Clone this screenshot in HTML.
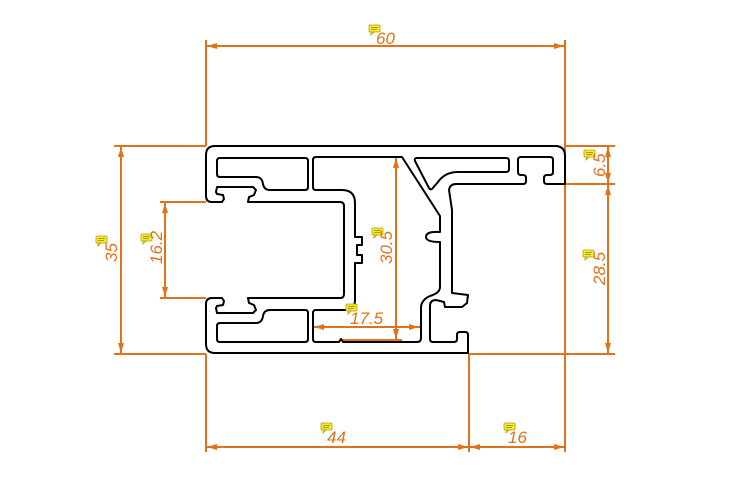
<!DOCTYPE html>
<html><head><style>html,body{margin:0;padding:0;background:#fff}svg{display:block}
text{font-family:"Liberation Sans",sans-serif;font-style:italic;font-size:17px;fill:#E0731A}</style></head>
<body>
<svg width="751" height="489" viewBox="0 0 751 489" xmlns="http://www.w3.org/2000/svg">
<defs>
<g id="ic"><rect x="0" y="0" width="11" height="7" rx="1" fill="#F3EA3A" stroke="#B8A000" stroke-width="0.8"/><path d="M2,7 L2,10 L5,7Z" fill="#F3EA3A" stroke="#B8A000" stroke-width="0.8"/><line x1="2" y1="2.5" x2="9" y2="2.5" stroke="#9a8a00" stroke-width="0.8"/><line x1="2" y1="4.5" x2="8" y2="4.5" stroke="#9a8a00" stroke-width="0.8"/></g>
<marker id="a" viewBox="0 0 10 6" refX="10" refY="3" markerWidth="10" markerHeight="6" markerUnits="userSpaceOnUse" orient="auto"><path d="M0,0 L10,3 L0,6Z" fill="#E0731A"/></marker>
</defs>
<g stroke="#E0731A" stroke-width="2" fill="none">
<!-- top 60 -->
<line x1="206" y1="40" x2="206" y2="146"/><line x1="565" y1="40" x2="565" y2="452"/>
<line x1="206" y1="46" x2="565" y2="46"/>
<!-- left 35 -->
<line x1="114" y1="146" x2="206" y2="146"/><line x1="114" y1="354" x2="206" y2="354"/>
<line x1="121" y1="146" x2="121" y2="354"/>
<!-- 16.2 -->
<line x1="160" y1="202" x2="206" y2="202"/><line x1="160" y1="298" x2="206" y2="298"/>
<line x1="165" y1="202" x2="165" y2="298"/>
<!-- right -->
<line x1="565" y1="146" x2="615" y2="146"/><line x1="565" y1="184" x2="615" y2="184"/><line x1="469" y1="354" x2="615" y2="354"/>
<line x1="608" y1="146" x2="608" y2="354"/>
<!-- bottom -->
<line x1="206" y1="354" x2="206" y2="452"/><line x1="469" y1="354" x2="469" y2="452"/>
<line x1="206" y1="447" x2="565" y2="447"/>
<!-- 30.5 / 17.5 -->
<line x1="388" y1="157" x2="402" y2="157"/><line x1="342" y1="340" x2="402" y2="340"/>
<line x1="396" y1="157" x2="396" y2="340"/>
<line x1="313" y1="327" x2="420" y2="327"/>
</g>
<g stroke="#E0731A" stroke-width="1.5" fill="none">
<line x1="215" y1="46" x2="207" y2="46" marker-end="url(#a)"/><line x1="556" y1="46" x2="564" y2="46" marker-end="url(#a)"/>
<line x1="121" y1="156" x2="121" y2="147" marker-end="url(#a)"/><line x1="121" y1="344" x2="121" y2="353" marker-end="url(#a)"/>
<line x1="165" y1="212" x2="165" y2="203" marker-end="url(#a)"/><line x1="165" y1="288" x2="165" y2="297" marker-end="url(#a)"/>
<line x1="608" y1="156" x2="608" y2="147" marker-end="url(#a)"/><line x1="608" y1="174" x2="608" y2="183" marker-end="url(#a)"/>
<line x1="608" y1="194" x2="608" y2="185" marker-end="url(#a)"/><line x1="608" y1="344" x2="608" y2="353" marker-end="url(#a)"/>
<line x1="215" y1="447" x2="207" y2="447" marker-end="url(#a)"/><line x1="460" y1="447" x2="468" y2="447" marker-end="url(#a)"/>
<line x1="478" y1="447" x2="470" y2="447" marker-end="url(#a)"/><line x1="556" y1="447" x2="564" y2="447" marker-end="url(#a)"/>
<line x1="396" y1="167" x2="396" y2="158" marker-end="url(#a)"/><line x1="396" y1="330" x2="396" y2="339" marker-end="url(#a)"/>
<line x1="323" y1="327" x2="314" y2="327" marker-end="url(#a)"/><line x1="410" y1="327" x2="419" y2="327" marker-end="url(#a)"/>
</g>
<g fill="none" stroke="#000" stroke-width="2" stroke-linejoin="round">
<path d="M206,155 Q206,146 215,146 H555 Q565,146 565,156 V184 H547 Q544,184 544,181 V178 Q544,175 547,175 H550 Q553,175 553,172 V160 Q553,157 550,157 H521 Q518,157 518,160 V172 Q518,175 521,175 H523 Q526,175 526,178 V181 Q526,184 523,184 H456 Q450,184 449,190 L452,210 V293 L468,295 L467,303 L462,307 H445 L444,302 L436,300 Q430,300 430,306 V339 Q430,342 433,342 H454 Q457,342 457,339 V335 Q457,332 460,332 H465 Q468,332 468,335 V353 H215 Q206,353 206,344 V304 Q206,298 212,298 H222 L224,301 L223,305 L217,306 L216,308 L217,313 H253 L256,310 L254,305 L249,303 L248,298 H340 Q344,298 344,294 V206 Q344,202 340,202 H248 L249,197 L254,195 L256,190 L253,187 H217 L216,192 L217,194 L223,195 L224,199 L222,202 H212 Q206,202 206,196 Z"/>
<path d="M220,158 H305 Q308,158 308,161 V187 Q308,190 305,190 H270 Q264,190 263,184 Q262,177 256,177 H220 Q217,177 217,174 V161 Q217,158 220,158 Z"/>
<path d="M220,342 H305 Q308,342 308,339 V313 Q308,310 305,310 H270 Q264,310 263,316 Q262,323 256,323 H220 Q217,323 217,326 V339 Q217,342 220,342 Z"/>
<path d="M316,157 H402 L440,216 V232 Q426,231 426,237 Q426,242 440,242 V287 Q440,293 430,296 Q421,300 421,308 V338 Q421,342 417,342 H343 L341,339 L339,342 H316 Q313,342 313,339 V313 Q313,310 316,310 H345 Q355,310 355,300 V263 H362 V255 H357 V245 H362 V237 H355 V203 Q355,190 342,190 H316 Q313,190 313,187 V160 Q313,157 316,157 Z"/>
<path d="M417,158 H506 Q509,158 509,161 V169 Q509,172 506,172 H458 Q445,172 438,182 L432,189 Q430,190 429,188 L415,161 Q414,158 417,158 Z"/>
</g>
<use href="#ic" x="369" y="25"/><text x="376" y="44">60</text>
<use href="#ic" x="96" y="236"/><text transform="translate(117,262) rotate(-90)">35</text>
<use href="#ic" x="141" y="234"/><text transform="translate(162,264) rotate(-90)">16.2</text>
<use href="#ic" x="372" y="228"/><text transform="translate(392,264) rotate(-90)">30.5</text>
<use href="#ic" x="346" y="304"/><text x="350" y="324">17.5</text>
<use href="#ic" x="584" y="150"/><text transform="translate(605,177) rotate(-90)">6.5</text>
<use href="#ic" x="583" y="250"/><text transform="translate(605,285) rotate(-90)">28.5</text>
<use href="#ic" x="321" y="423"/><text x="327" y="443">44</text>
<use href="#ic" x="504" y="423"/><text x="508" y="443">16</text>
</svg>
</body></html>
